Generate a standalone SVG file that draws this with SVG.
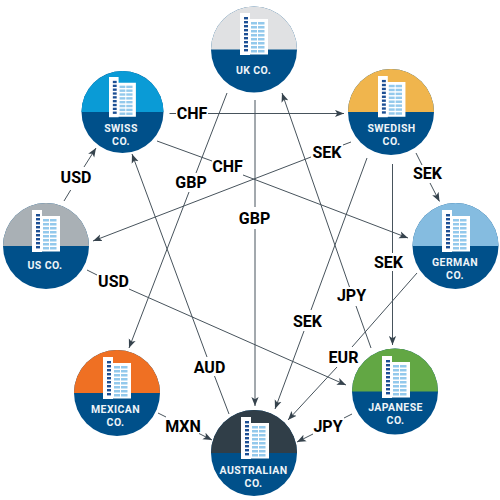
<svg xmlns="http://www.w3.org/2000/svg" xmlns:xlink="http://www.w3.org/1999/xlink" width="500" height="500" viewBox="0 0 500 500">
<style>
.c{fill:none;stroke:#47535c;stroke-width:1;marker-end:url(#a)}
.l{font:700 16px Roboto,"Liberation Sans",sans-serif;fill:#000;text-anchor:middle}
.n{font:700 10.5px Roboto,"Liberation Sans",sans-serif;fill:#eef4f8;text-anchor:middle;letter-spacing:.4px}
.b{fill:#00508a}
.d{fill:#1c4f94}
.w{fill:#93c9ec}
</style>
<defs>
<marker id="a" markerUnits="userSpaceOnUse" markerWidth="9" markerHeight="8" viewBox="0 0 9 8" refX="9" refY="4" orient="auto"><path d="M0 .4 L9 4 L0 7.6 L2.2 4 Z" fill="#36434d"/></marker>
<g id="bld">
<path d="M0 0H10V6H28V41.5H10V42H0Z" fill="#fff"/>
<g class="d"><rect x="4" y="4" width="4" height="2.4"/><rect x="4" y="8" width="4" height="2.4"/><rect x="4" y="12" width="4" height="2.4"/><rect x="4" y="16" width="4" height="2.4"/><rect x="4" y="20" width="4" height="2.4"/><rect x="4" y="24" width="4" height="2.4"/><rect x="4" y="28" width="4" height="2.4"/><rect x="4" y="32" width="4" height="2.4"/><rect x="4" y="36" width="4" height="2.4"/></g>
<g class="w"><rect x="11" y="9" width="6" height="2.5"/><rect x="18" y="9" width="6.5" height="2.5"/><rect x="11" y="13" width="6" height="2.5"/><rect x="18" y="13" width="6.5" height="2.5"/><rect x="11" y="17" width="6" height="2.5"/><rect x="18" y="17" width="6.5" height="2.5"/><rect x="11" y="21" width="6" height="2.5"/><rect x="18" y="21" width="6.5" height="2.5"/><rect x="11" y="25" width="6" height="2.5"/><rect x="18" y="25" width="6.5" height="2.5"/><rect x="11" y="29" width="6" height="2.5"/><rect x="18" y="29" width="6.5" height="2.5"/><rect x="11" y="33" width="6" height="2.5"/><rect x="18" y="33" width="6.5" height="2.5"/><rect x="11" y="37" width="6" height="2.5"/><rect x="18" y="37" width="6.5" height="2.5"/></g>
</g>
</defs>
<rect width="500" height="500" fill="#fff"/>
<g id="connectors">
<path class="c" d="M169.5 113.5H176M208 113.5H344"/>
<path class="c" d="M157 141L212 161M243 175L408 238"/>
<path class="c" d="M227 93L196 173M189 192L129 348"/>
<path class="c" d="M255 100V207M255 229V406"/>
<path class="c" d="M351 142L343 145M311 157L93 241"/>
<path class="c" d="M367 158L311 310M304 331L275 409"/>
<path class="c" d="M392.500 164V253M392.500 271V345"/>
<path class="c" d="M416 153L422 165M430 183L439.500 201.500"/>
<path class="c" d="M417 273L352 347M337 367L288 420"/>
<path class="c" d="M371 348L356 306M349.500 287L282 93"/>
<path class="c" d="M229 414L214.500 376M207 357L132 154"/>
<path class="c" d="M64 201L70.700 190M84 167L96 148"/>
<path class="c" d="M87 270L97 275M129 289L346 385"/>
<path class="c" d="M158 413L166 417M199 433.500L212 440"/>
<path class="c" d="M352 414L344 418M313 434L297 442"/>
</g>
<g id="labels">
<text class="l" x="192" y="119">CHF</text>
<text class="l" x="227.500" y="172">CHF</text>
<text class="l" x="191" y="188">GBP</text>
<text class="l" x="254.500" y="224">GBP</text>
<text class="l" x="327" y="158">SEK</text>
<text class="l" x="307.500" y="327">SEK</text>
<text class="l" x="388.500" y="268">SEK</text>
<text class="l" x="427.500" y="179">SEK</text>
<text class="l" x="343.500" y="363">EUR</text>
<text class="l" x="351.500" y="301">JPY</text>
<text class="l" x="209.500" y="373">AUD</text>
<text class="l" x="76" y="183">USD</text>
<text class="l" x="113.500" y="287">USD</text>
<text class="l" x="183" y="432">MXN</text>
<text class="l" x="328" y="432">JPY</text>
</g>
<g id="uk"><circle class="b" cx="254" cy="49.500" r="43"/><path d="M211 49.500A43 43 0 0 1 297 49.500Z" fill="#e0e1e3"/><use xlink:href="#bld" href="#bld" x="240" y="13"/><text class="n" x="253.500" y="74">UK CO.</text></g>
<g id="swiss"><circle class="b" cx="122.500" cy="112" r="41"/><path d="M81.500 112A41 41 0 0 1 163.500 112Z" fill="#0a9bd6"/><use xlink:href="#bld" href="#bld" transform="translate(109 77) scale(.96)"/><text class="n" x="121" y="132">SWISS</text><text class="n" x="121" y="145">CO.</text></g>
<g id="swedish"><circle class="b" cx="391" cy="112" r="43"/><path d="M348 112A43 43 0 0 1 434 112Z" fill="#f0b54d"/><use xlink:href="#bld" href="#bld" transform="translate(378 76) scale(.98)"/><text class="n" x="391.500" y="132">SWEDISH</text><text class="n" x="391.500" y="145">CO.</text></g>
<g id="us"><circle class="b" cx="46" cy="246" r="43"/><path d="M3 246A43 43 0 0 1 89 246Z" fill="#a9b0b5"/><use xlink:href="#bld" href="#bld" x="32" y="210"/><text class="n" x="45" y="269">US CO.</text></g>
<g id="german"><circle class="b" cx="455.500" cy="246" r="43"/><path d="M412.500 246A43 43 0 0 1 498.500 246Z" fill="#85bce0"/><use xlink:href="#bld" href="#bld" x="442" y="210"/><text class="n" x="455" y="266">GERMAN</text><text class="n" x="455" y="279">CO.</text></g>
<g id="mexican"><circle class="b" cx="117" cy="393" r="43"/><path d="M74 393A43 43 0 0 1 160 393Z" fill="#ef7023"/><use xlink:href="#bld" href="#bld" x="103" y="357"/><text class="n" x="115.500" y="413">MEXICAN</text><text class="n" x="115.500" y="426">CO.</text></g>
<g id="japanese"><circle class="b" cx="395" cy="391.500" r="43"/><path d="M352 391.500A43 43 0 0 1 438 391.500Z" fill="#62a744"/><use xlink:href="#bld" href="#bld" x="382" y="356"/><text class="n" x="395.500" y="411">JAPANESE</text><text class="n" x="395.500" y="424">CO.</text></g>
<g id="australian"><circle class="b" cx="254" cy="453" r="43"/><path d="M211 453A43 43 0 0 1 297 453Z" fill="#303e48"/><use xlink:href="#bld" href="#bld" x="241" y="417"/><text class="n" x="253.500" y="474">AUSTRALIAN</text><text class="n" x="253.500" y="487">CO.</text></g>
</svg>
